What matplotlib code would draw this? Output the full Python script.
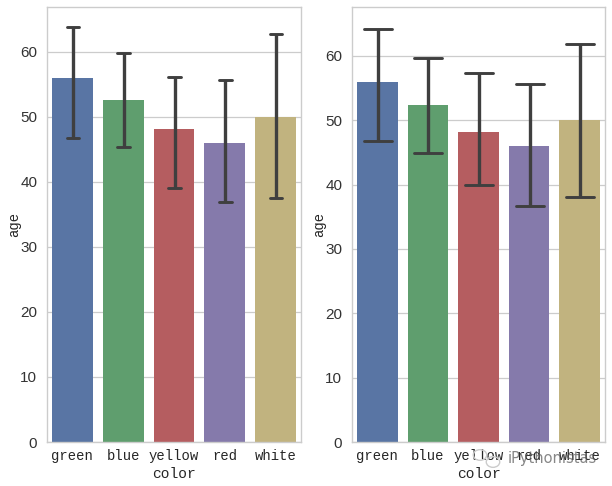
# coding=utf-8
import matplotlib
matplotlib.use('Agg')
from matplotlib import pyplot as plt
from matplotlib.patches import Circle

colors = ['green', 'blue', 'yellow', 'red', 'white']
bar_colors = ['#5975a4', '#5f9e6e', '#b55d60', '#857aab', '#c1b37f']

left_age = [56.0, 52.6, 48.2, 46.0, 50.0]
left_low = [46.8, 45.4, 39.0, 36.9, 37.6]
left_high = [63.8, 59.9, 56.2, 55.6, 62.8]

right_age = [55.9, 52.4, 48.2, 46.0, 50.0]
right_low = [46.8, 44.9, 40.0, 36.6, 38.0]
right_high = [64.2, 59.6, 57.4, 55.7, 61.9]

y_ticks = [0, 10, 20, 30, 40, 50, 60]

W, H = 612, 486
GRID = '#cccccc'
DARK = '#3f3f3f'
FONT = 'Liberation Mono'


def draw_panel(rect, age, low, high, top, cap):
    ax = fig.add_axes(rect)
    x = list(range(len(colors)))
    ax.bar(x, age, width=0.8, color=bar_colors, zorder=2)
    for i in x:
        ax.plot([i + 0.01, i + 0.01], [low[i], high[i]], color=DARK, lw=2.4, zorder=3, solid_capstyle='butt')
        for v in (low[i], high[i]):
            ax.plot([i + 0.01 - cap, i + 0.01 + cap], [v, v], color=DARK, lw=2.1, zorder=3,
                    solid_capstyle='round')
    ax.set_xlim(-0.5, 4.5)
    ax.set_ylim(0, top)
    ax.set_xticks(x)
    ax.set_xticklabels(colors, family=FONT, fontsize=10, color='#262626')
    ax.set_yticks(y_ticks)
    ax.set_yticklabels(y_ticks, fontsize=11, color='#333333', family='Liberation Sans')
    ax.tick_params(axis='x', length=0, pad=5)
    ax.tick_params(axis='y', length=0, pad=7)
    ax.grid(axis='y', color=GRID, lw=0.9, zorder=0)
    ax.set_axisbelow(True)
    for s in ax.spines.values():
        s.set_color(GRID)
        s.set_linewidth(1.0)
    ax.set_xlabel('color', family=FONT, fontsize=10.5, color='#262626', labelpad=3)
    ax.set_ylabel('age', family=FONT, fontsize=10, color='#262626')
    ax.yaxis.set_label_coords(-26 / rect[2] / W, 0.5)
    return ax


fig = plt.figure(figsize=(W / 100, H / 100), dpi=100)
draw_panel([47 / W, 1 - 442 / H, 254 / W, 435 / H], left_age, left_low, left_high, 66.9, 0.125)
draw_panel([352 / W, 1 - 442 / H, 253 / W, 435 / H], right_age, right_low, right_high, 67.6, 0.275)

# watermark
fig.text(508 / W, 1 - 458 / H, 'iPythonistas', fontsize=10.5, color='#555555', alpha=0.7,
         ha='left', va='center', family='DejaVu Sans')
fig.add_artist(Circle((480 / W, 1 - 455 / H), 0.011, transform=fig.transFigure, fc='none',
                      ec='#cccccc', lw=1))
fig.add_artist(Circle((493 / W, 1 - 462 / H), 0.011, transform=fig.transFigure, fc='none',
                      ec='#cccccc', lw=1))

fig.savefig('out.png', dpi=100)
